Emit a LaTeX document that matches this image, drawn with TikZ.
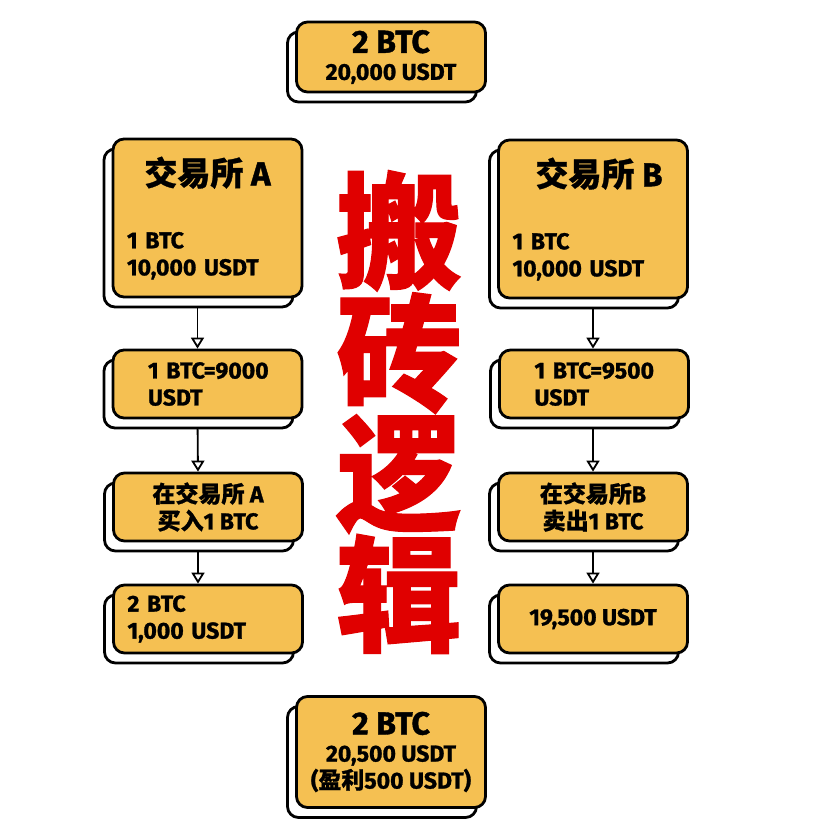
\documentclass[tikz,border=0pt]{standalone}
\usepackage{fontspec}
\setmainfont{Fira Sans}[BoldFeatures={FakeBold=1.2}]
\newfontfamily\cjk{Noto Sans CJK SC}[BoldFeatures={FakeBold=0.8}]
\newfontfamily\cjkheavy{Noto Sans CJK SC}[BoldFeatures={FakeBold=0.9}]
\usetikzlibrary{arrows.meta, shadows, backgrounds}
\definecolor{mYellow}{HTML}{F5C052}
\definecolor{mRed}{HTML}{E00000}
\newcommand{\zh}[1]{{\cjk #1}}
\newcommand{\fs}[2]{\fontsize{#1}{#2}\selectfont}

\begin{document}
\begin{tikzpicture}[x=1pt, y=-1pt,
    every node/.style={font=\bfseries\fs{23}{27}},
    box/.style={draw, line width=2.8pt, fill=mYellow, rounded corners=11pt,
      inner sep=0pt, minimum width=189pt, minimum height=68pt,
      general shadow={fill=white, draw=black, line width=2.8pt,
        shadow xshift=-9pt, shadow yshift=-10pt}},
    flow/.style={line width=1.8pt, -{Triangle[open, length=11pt, width=13pt]}}]
    \useasboundingbox (0,0) rectangle (828,828);
    % top and bottom totals
    \node[box, minimum height=70pt, align=center] (start) at (391,57)
      {{\fs{32}{30}2 BTC}\\20,000 USDT};
    \node[box, minimum height=111pt, align=center] (total) at (391,752)
      {{\fs{32}{30}2 BTC}\\20,500 USDT\\(\zh{盈利}500 USDT)};
    % exchange A
    \node[box, minimum height=158pt, text width=161pt, inner xsep=14pt, align=left] (exA) at (207.5,218)
      {\makebox[161pt]{\fs{33}{34}\zh{交易所} A}\\[36pt]1 BTC\\10,000 USDT};
    \node[box, text width=119pt, inner xsep=35pt, align=left] (rateA) at (207.5,384) {1~BTC=9000\\USDT};
    \node[box, align=center] (buyA) at (208,507) {\zh{在交易所} A\\\zh{买入}1 BTC};
    \node[box, text width=161pt, inner xsep=14pt, align=left] (endA) at (208,619) {2 BTC\\1,000 USDT};
    % exchange B
    \node[box, minimum height=158pt, text width=161pt, inner xsep=14pt, align=left] (exB) at (593,219)
      {\makebox[161pt]{\fs{33}{34}\hspace{12pt}\zh{交易所} B}\\[36pt]1 BTC\\10,000 USDT};
    \node[box, text width=119pt, inner xsep=35pt, align=left] (rateB) at (594,384) {1~BTC=9500\\USDT};
    \node[box, align=center] (sellB) at (593,507) {\zh{在交易所}B\\\zh{卖出}1 BTC};
    \node[box, align=center] (endB) at (593,619) {19,500 USDT};
    % title
    \node[text=mRed, align=center, font=\cjkheavy\bfseries\fs{126}{121}] (title) at (399,412) {搬\\砖\\逻\\辑};
    \begin{scope}[on background layer]
      \fill[white] (0,0) rectangle (828,828);
      \draw[flow] ([xshift=-10pt]exA.south) -- ([xshift=-10pt]rateA.north);
      \draw[flow] ([xshift=-10pt]rateA.south) -- ([xshift=-10pt]buyA.north);
      \draw[flow] ([xshift=-10pt]buyA.south) -- ([xshift=-10pt]endA.north);
      \draw[flow] (exB.south) -- (exB.south |- rateB.north);
      \draw[flow] (rateB.south -| sellB.north) -- (sellB.north);
      \draw[flow] (sellB.south) -- (endB.north);
    \end{scope}
  \end{tikzpicture}
\end{document}
